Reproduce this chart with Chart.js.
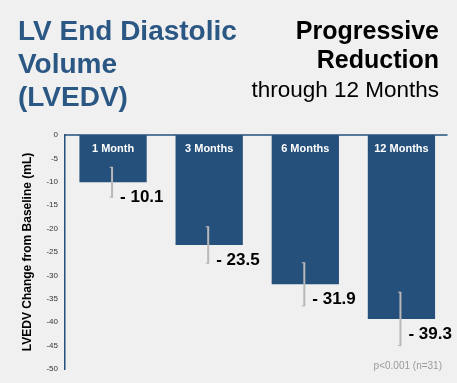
<!DOCTYPE html>
<html>
<head>
<meta charset="utf-8">
<script src="https://cdn.jsdelivr.net/npm/chart.js@4/dist/chart.umd.min.js"></script>
<style>
  html, body { margin: 0; padding: 0; background: #eff0ef; }
  #c { display: block; }
</style>
</head>
<body>
<canvas id="c" width="457" height="383"></canvas>
<script>
// ---- Data ----
const categories = ['1 Month', '3 Months', '6 Months', '12 Months'];
const changes = [-10.1, -23.5, -31.9, -39.3];     // LVEDV change from baseline (mL)
const errors = [3.3, 4.0, 4.7, 5.8];               // error bar half-length (mL)
const yTicks = [0, -5, -10, -15, -20, -25, -30, -35, -40, -45, -50];
const titleLeft = ['LV End Diastolic', 'Volume', '(LVEDV)'];
const titleRight = ['Progressive', 'Reduction', 'through 12 Months'];
const footnote = 'p<0.001 (n=31)';
const yAxisTitle = 'LVEDV Change from Baseline (mL)';

const BG = '#eff0ef';
const BAR = '#25507b';
const TITLE_BLUE = '#2b5784';
const FONT = 'Arial, "Liberation Sans", Helvetica, sans-serif';

const decorPlugin = {
  id: 'decor',
  beforeDraw(chart) {
    const ctx = chart.ctx;
    ctx.save();
    ctx.fillStyle = BG;
    ctx.fillRect(0, 0, chart.width, chart.height);
    // Left title
    ctx.fillStyle = TITLE_BLUE;
    ctx.font = 'bold 28px ' + FONT;
    ctx.textAlign = 'left';
    ctx.textBaseline = 'alphabetic';
    const lb = [39.5, 72.5, 105.5];
    titleLeft.forEach((t, i) => ctx.fillText(t, 18, lb[i]));
    // Right title
    ctx.fillStyle = '#000';
    ctx.textAlign = 'right';
    ctx.font = 'bold 25px ' + FONT;
    ctx.fillText(titleRight[0], 439, 39);
    ctx.fillText(titleRight[1], 439, 68);
    ctx.font = '22.5px ' + FONT;
    ctx.fillText(titleRight[2], 439, 96.5);
    ctx.restore();
  },
  afterDatasetsDraw(chart) {
    const ctx = chart.ctx;
    const y = chart.scales.y;
    const meta = chart.getDatasetMeta(0);
    const area = chart.chartArea;
    ctx.save();
    // top zero line
    const y0 = y.getPixelForValue(0);
    ctx.strokeStyle = BAR;
    ctx.lineWidth = 1.5;
    ctx.beginPath();
    ctx.moveTo(area.left, y0);
    ctx.lineTo(area.right - 2, y0);
    ctx.stroke();

    meta.data.forEach((bar, i) => {
      const v = changes[i];
      const e = errors[i];
      const ex = bar.x - 1;
      const yt = y.getPixelForValue(v + e);
      const yb = y.getPixelForValue(v - e);
      // error bar
      ctx.strokeStyle = '#b8b8b8';
      ctx.lineWidth = 2;
      ctx.beginPath();
      ctx.moveTo(ex, yt);
      ctx.lineTo(ex, yb);
      ctx.stroke();
      ctx.lineWidth = 1;
      ctx.beginPath();
      ctx.moveTo(ex - 2.5, yt + 0.5);
      ctx.lineTo(ex, yt + 0.5);
      ctx.moveTo(ex - 2.5, yb - 0.5);
      ctx.lineTo(ex, yb - 0.5);
      ctx.stroke();
      // category label inside bar
      ctx.fillStyle = '#fff';
      ctx.font = 'bold 11px ' + FONT;
      ctx.textAlign = 'center';
      ctx.textBaseline = 'middle';
      ctx.fillText(categories[i], bar.x, y0 + 14);
      // value label
      ctx.fillStyle = '#000';
      ctx.font = 'bold 17px ' + FONT;
      ctx.textAlign = 'left';
      ctx.fillText('- ' + Math.abs(v).toFixed(1), bar.x + 7, y.getPixelForValue(v) + 15);
    });
    // footnote
    ctx.fillStyle = '#9a9a9a';
    ctx.font = '10px ' + FONT;
    ctx.textAlign = 'right';
    ctx.textBaseline = 'middle';
    ctx.fillText(footnote, 442, 366.5);
    ctx.restore();
  }
};

new Chart(document.getElementById('c'), {
  type: 'bar',
  data: {
    labels: categories,
    datasets: [{
      data: changes,
      backgroundColor: BAR,
      borderWidth: 0,
      categoryPercentage: 1.0,
      barPercentage: 0.7
    }]
  },
  options: {
    responsive: false,
    animation: false,
    devicePixelRatio: 1,
    layout: { padding: { top: 135, left: 0, right: 7.5, bottom: 14 } },
    plugins: { legend: { display: false }, tooltip: { enabled: false } },
    scales: {
      x: { display: false },
      y: {
        min: -50,
        max: 0,
        afterBuildTicks(scale) { scale.ticks = yTicks.map(v => ({ value: v })); },
        afterFit(scale) { scale.width = 65; },
        ticks: {
          padding: 7,
          color: '#333',
          font: { family: '"Liberation Sans Narrow", "Arial Narrow", Arial, sans-serif', size: 8 }
        },
        grid: { display: false, drawTicks: false },
        border: { display: true, color: BAR, width: 1.5 },
        title: {
          display: true,
          text: yAxisTitle,
          color: '#000',
          font: { family: FONT, size: 12, weight: 'bold' },
          padding: { top: 20, bottom: 0 }
        }
      }
    }
  },
  plugins: [decorPlugin]
});
</script>
</body>
</html>
